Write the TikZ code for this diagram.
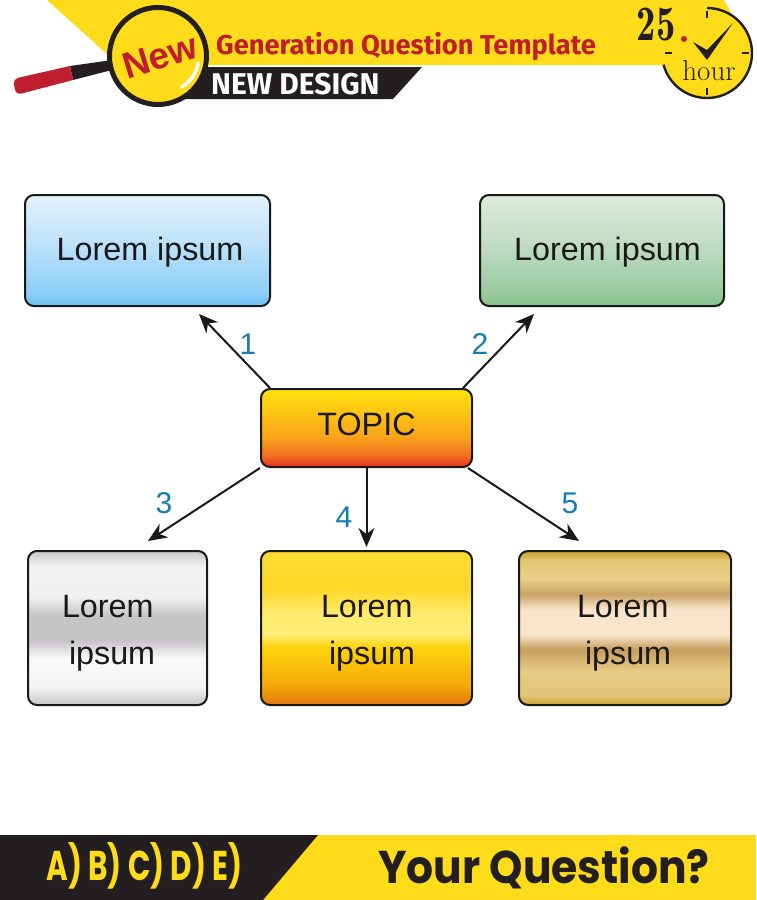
\documentclass[tikz,border=0pt]{standalone}
\usepackage{fontspec}
\usepackage{graphicx}
\setmainfont{Liberation Sans}
\newfontfamily\headfont{Fira Sans}[UprightFont=* Bold]
\newfontfamily\fatfont{Poppins}[UprightFont=* Bold]
\usetikzlibrary{arrows.meta,calc}
\definecolor{bandyellow}{RGB}{255,220,25}
\definecolor{bandblack}{RGB}{35,31,32}
\definecolor{newred}{RGB}{190,30,45}
\definecolor{numblue}{RGB}{20,125,175}
\pgfdeclareverticalshading{blueshade}{100bp}{rgb(0bp)=(.42,.76,.96);rgb(25bp)=(.42,.76,.96);rgb(31bp)=(.55,.81,.97);rgb(55bp)=(.76,.89,.98);rgb(75bp)=(.89,.95,.99);rgb(100bp)=(.89,.95,.99)}
\pgfdeclareverticalshading{greenshade}{100bp}{rgb(0bp)=(.52,.76,.55);rgb(25bp)=(.52,.76,.55);rgb(31bp)=(.60,.79,.62);rgb(55bp)=(.77,.87,.78);rgb(75bp)=(.86,.92,.87);rgb(100bp)=(.86,.92,.87)}
\pgfdeclareverticalshading{topicshade}{100bp}{rgb(0bp)=(.91,.18,.13);rgb(25bp)=(.91,.18,.13);rgb(33bp)=(.95,.45,.13);rgb(45bp)=(.98,.65,.10);rgb(75bp)=(1,.89,.05);rgb(100bp)=(1,.89,.05)}
\pgfdeclareverticalshading{silvershade}{100bp}{rgb(0bp)=(.84,.84,.84);rgb(25bp)=(.78,.78,.78);rgb(31bp)=(.96,.96,.96);rgb(40bp)=(.98,.98,.98);rgb(46bp)=(.78,.77,.78);rgb(54bp)=(.78,.77,.78);rgb(60bp)=(.94,.94,.94);rgb(70bp)=(.95,.95,.95);rgb(75bp)=(.78,.78,.78);rgb(100bp)=(.78,.78,.78)}
\pgfdeclareverticalshading{yellowshade}{100bp}{rgb(0bp)=(.89,.47,.05);rgb(25bp)=(.89,.47,.05);rgb(32bp)=(.96,.67,.03);rgb(44bp)=(1,.83,.05);rgb(48bp)=(1,.93,.47);rgb(55bp)=(1,.92,.42);rgb(63bp)=(1,.84,.15);rgb(72bp)=(1,.86,.2);rgb(75bp)=(.98,.85,.2);rgb(100bp)=(.98,.85,.2)}
\pgfdeclareverticalshading{goldshade}{100bp}{rgb(0bp)=(.78,.62,.2);rgb(25bp)=(.78,.62,.2);rgb(28bp)=(.89,.77,.47);rgb(36bp)=(.91,.80,.52);rgb(43bp)=(.78,.62,.36);rgb(48bp)=(.98,.90,.80);rgb(56bp)=(.98,.90,.80);rgb(61bp)=(.79,.64,.40);rgb(66bp)=(.92,.81,.53);rgb(72bp)=(.90,.78,.46);rgb(75bp)=(.78,.62,.15);rgb(100bp)=(.78,.62,.15)}
\tikzset{
  boxbase/.style={draw=black!90,line width=2pt,rounded corners=9pt,inner sep=0pt,font=\fontsize{32.3}{47}\selectfont,text=black!90},
  arrowline/.style={draw=black!90,line width=2pt,-{Stealth[length=19pt,width=16pt,inset=6pt]}},
  numlabel/.style={text=numblue,font=\fontsize{30}{30}\selectfont,inner sep=0pt},
}
\begin{document}
\begin{tikzpicture}[x=1pt,y=-1pt]
\useasboundingbox (0,0) rectangle (756,900);
% header band
\fill[bandyellow] (47,0) -- (724,0) -- (735,20) -- (700,65) -- (119,65) -- cycle;
\fill[bandblack] (190,67) -- (422,67) -- (393,99) -- (175,99) -- cycle;
% handle
\fill[bandblack] (70,66) -- (112,60) -- (112,70) -- (73,80) -- cycle;
\fill[newred] (70,66) -- (73,80) [rounded corners=5pt] -- (16,95) -- (13,79) [sharp corners] -- cycle;
% lens
\node[circle,draw=bandblack,line width=5pt,fill=bandyellow,minimum size=97pt,inner sep=0pt] (lens) at (158,56) {};
\draw[white,line width=3.5pt,line cap=round] (198,63) .. controls (197,73) and (190,82) .. (182,87);
\node[rotate=17,text=newred,font=\bfseries\fontsize{37}{37}\selectfont,inner sep=0pt] (newlabel) at (160,56) {New};
\node[text=newred,font=\headfont\fontsize{27.3}{27.3}\selectfont,inner sep=0pt,anchor=west] (gen) at (216,46) {Generation Question Template};
\node[text=white,font=\headfont\fontsize{30}{30}\selectfont,inner sep=0pt,anchor=west] (design) at (211,84) {NEW DESIGN};
% clock
\node[circle,fill=bandyellow,minimum size=90pt,inner sep=0pt] (clock) at (707,53) {};
\draw[bandblack,line width=2.4pt] (707,8) arc[start angle=90,end angle=-165,radius=45pt];
\foreach \a in {0,90,180,270} \draw[bandblack,line width=2.8pt] ($(clock.center)+(\a:35pt)$) -- ($(clock.center)+(\a:42pt)$);
\fill[bandblack] (693,42) -- (707,50) -- (733,23) -- (707,60) -- cycle;
\node[font=\fontfamily{lmr}\bfseries\fontsize{42}{42}\selectfont,text=bandblack,inner sep=0pt] (num) at (656,25) {\scalebox{.92}[1.18]{25}};
\fill[newred] (684,39) circle (3pt);
\node[font=\fontfamily{lmr}\fontsize{29}{29}\selectfont,text=bandblack,inner sep=0pt] (hour) at (709,71) {hour};
% boxes
\node[boxbase,shading=blueshade,minimum width=245pt,minimum height=111pt] (b1) at (147.5,250.5) {\rule{0pt}{26pt}\hspace*{5pt}Lorem ipsum};
\node[boxbase,shading=greenshade,minimum width=244pt,minimum height=111pt] (b2) at (602,250.5) {\rule{0pt}{26pt}\hspace*{11pt}Lorem ipsum};
\node[boxbase,shading=topicshade,minimum width=211pt,minimum height=78pt] (topic) at (366.5,428) {\rule[-8pt]{0pt}{8pt}TOPIC};
\node[boxbase,shading=silvershade,minimum width=179pt,minimum height=154pt,text width=179pt,align=left] (b3) at (117.5,628) {\rule{0pt}{32pt}\hspace*{34pt}Lorem\\\hspace*{41pt}ipsum};
\node[boxbase,shading=yellowshade,minimum width=211pt,minimum height=154pt,text width=211pt,align=left] (b4) at (366.5,628) {\rule{0pt}{32pt}\hspace*{60pt}Lorem\\\hspace*{68pt}ipsum};
\node[boxbase,shading=goldshade,minimum width=212pt,minimum height=154pt,text width=212pt,align=left] (b5) at (625,628) {\rule{0pt}{32pt}\hspace*{58pt}Lorem\\\hspace*{66pt}ipsum};
% arrows
\coordinate (e1) at (199,314);
\coordinate (e2) at (534,314);
\coordinate (e3) at (148,541);
\coordinate (e4) at (366.5,547);
\coordinate (e5) at (579,541);
\draw[arrowline] ([xshift=10pt]topic.north west) -- (e1);
\draw[arrowline] ([xshift=-10pt]topic.north east) -- (e2);
\draw[arrowline] (topic.south west) -- (e3);
\draw[arrowline] (topic.south) -- (e4);
\draw[arrowline] ([xshift=-5pt]topic.south east) -- (e5);
\node[numlabel] (n1) at (248,344) {1};
\node[numlabel] (n2) at (480,344) {2};
\node[numlabel] (n3) at (164,503) {3};
\node[numlabel] (n4) at (344,517) {4};
\node[numlabel] (n5) at (570,503) {5};
% footer
\fill[bandyellow] (250,835) rectangle (756,900);
\fill[bandblack] (0,835) -- (318,835) -- (263,900) -- (0,900) -- cycle;
\node[text=bandyellow,font=\fatfont\fontsize{32}{32}\selectfont,inner sep=0pt] (answers) at (144.5,866) {\scalebox{.92}[1.3]{A) B) C) D) E)}};
\node[text=bandblack,font=\fatfont\fontsize{41}{41}\selectfont,inner sep=0pt] (question) at (544,868) {\scalebox{1.035}[1.12]{Your Question?}};
\end{tikzpicture}
\end{document}
